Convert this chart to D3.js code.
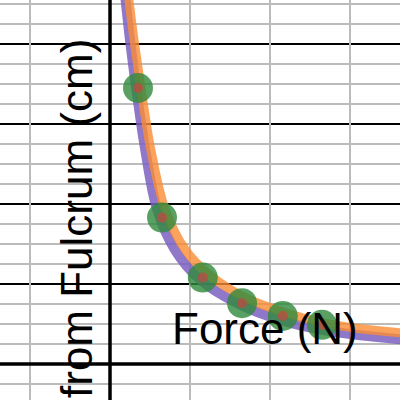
<!DOCTYPE html>
<html><head><meta charset="utf-8">
<script src="https://cdn.jsdelivr.net/npm/d3@7"></script>
<style>body{margin:0;background:#fff}</style>
</head><body><div id="chart"></div>
<script>
// data (grid units: one major square = 1)
const pointX = [0.35, 0.65, 1.16, 1.65, 2.16, 2.65];
const pointY = [3.45, 1.83, 1.08, 0.76, 0.60, 0.49];
const purpleX = [0.19, 0.25, 0.33, 0.44, 0.59, 0.81, 1.13, 1.63, 2.13, 2.63, 3.13, 3.63];
const purpleY = [4.60, 4.05, 3.43, 2.68, 1.93, 1.43, 1.05, 0.74, 0.55, 0.43, 0.36, 0.31];
const orangeX = [0.23, 0.30, 0.39, 0.51, 0.69, 0.94, 1.25, 1.69, 2.19, 2.69, 3.13, 3.63];
const orangeY = [4.60, 4.05, 3.43, 2.68, 1.93, 1.43, 1.11, 0.83, 0.64, 0.51, 0.44, 0.39];

const width = 400, height = 400;
const svg = d3.select("#chart").append("svg")
    .attr("width", width).attr("height", height);

const x = d3.scaleLinear().domain([-1.375, 3.625]).range([0, width]);
const y = d3.scaleLinear().domain([4.55, -0.45]).range([0, height]);

// minor horizontal grid
svg.append("g").selectAll("line")
    .data(d3.range(-0.25, 4.6, 0.25))
    .join("line")
    .attr("x1", 0).attr("x2", width)
    .attr("y1", d => y(d)).attr("y2", d => y(d))
    .attr("stroke", Math.abs(0) ? "#000" : "#bbb")
    .attr("stroke", d => Math.abs(d - Math.round(d)) < 1e-6 ? "#000" : "#bbb")
    .attr("stroke-width", d => Math.abs(d - Math.round(d)) < 1e-6 ? 2 : 2);

// vertical grid
svg.append("g").selectAll("line")
    .data([-1, 1, 2, 3])
    .join("line")
    .attr("y1", 0).attr("y2", height)
    .attr("x1", d => x(d)).attr("x2", d => x(d))
    .attr("stroke", "#bbb").attr("stroke-width", 2);

// axes
svg.append("line").attr("x1", 0).attr("x2", width)
    .attr("y1", y(0)).attr("y2", y(0)).attr("stroke", "#000").attr("stroke-width", 3.5);
svg.append("line").attr("y1", 0).attr("y2", height)
    .attr("x1", x(0)).attr("x2", x(0)).attr("stroke", "#000").attr("stroke-width", 3.5);

const line = d3.line().x(d => x(d[0])).y(d => y(d[1])).curve(d3.curveCatmullRom);

svg.append("path").attr("d", line(d3.zip(purpleX, purpleY)))
    .attr("fill", "none").attr("stroke", "#7b5fbf").attr("stroke-opacity", 0.85)
    .attr("stroke-width", 10);
svg.append("path").attr("d", line(d3.zip(orangeX, orangeY)))
    .attr("fill", "none").attr("stroke", "#fa8c35").attr("stroke-opacity", 0.8)
    .attr("stroke-width", 9);

const pts = d3.zip(pointX, pointY);
svg.append("g").selectAll("circle").data(pts).join("circle")
    .attr("cx", d => x(d[0])).attr("cy", d => y(d[1])).attr("r", 15)
    .attr("fill", "#2f8a3c").attr("fill-opacity", 0.8);
svg.append("g").selectAll("circle").data(pts).join("circle")
    .attr("cx", d => x(d[0])).attr("cy", d => y(d[1])).attr("r", 5)
    .attr("fill", "#c74440").attr("fill-opacity", 0.7);

// labels
svg.append("text").attr("x", 172).attr("y", 344)
    .attr("font-family", "Liberation Sans, Arial, sans-serif").attr("font-size", 44)
    .text("Force (N)");
svg.append("text")
    .attr("transform", "translate(92,398) rotate(-90)")
    .attr("font-family", "Liberation Sans, Arial, sans-serif").attr("font-size", 44)
    .text("from Fulcrum (cm)");
</script></body></html>
